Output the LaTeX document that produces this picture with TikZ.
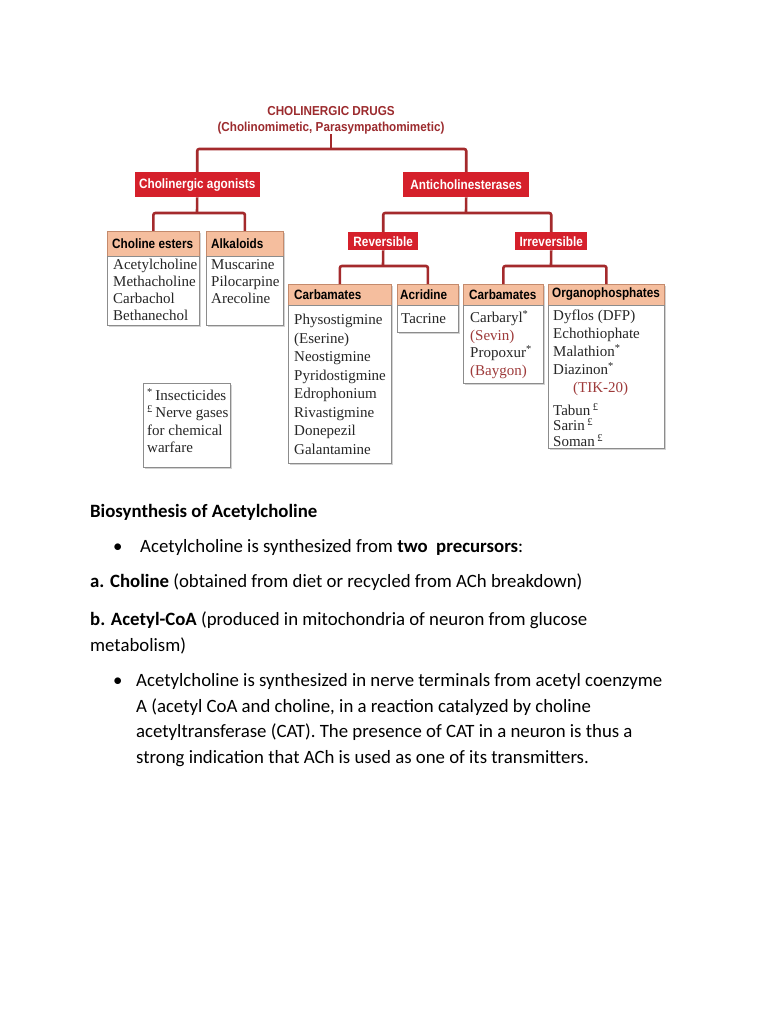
\documentclass[tikz,border=0pt]{standalone}
\usepackage{fontspec}
\setmainfont{Carlito}
\newfontfamily\hdr[FakeStretch=0.87]{Liberation Sans}
\newfontfamily\ttl[FakeStretch=0.9]{Liberation Sans}
\newfontfamily\lst{Liberation Serif}
\usetikzlibrary{shadows}
\definecolor{linered}{HTML}{A42A2C}
\definecolor{boxred}{HTML}{D5202B}
\definecolor{salmon}{HTML}{F5BE9E}
\definecolor{hdrborder}{HTML}{C48A6C}
\definecolor{titlered}{HTML}{9C2B2E}
\definecolor{namered}{HTML}{9E3A3A}
\definecolor{bodyborder}{HTML}{8C8C8C}
\tikzset{
  conn/.style={draw=linered, line width=2.6pt, rounded corners=2pt},
  redbox/.style={fill=boxred, text=white, font=\hdr\bfseries\fontsize{13.5}{15}\selectfont, inner sep=0pt, anchor=north west},
  hdrbox/.style={fill=salmon, draw=hdrborder, line width=0.8pt, inner sep=0pt, anchor=north west, drop shadow={shadow xshift=2pt, shadow yshift=-2pt, fill=black!35}},
  hdrtext/.style={font=\hdr\bfseries\fontsize{13.5}{15}\selectfont, anchor=west, inner sep=0pt},
  bodybox/.style={fill=white, draw=bodyborder, line width=0.8pt, inner sep=0pt, anchor=north west, drop shadow={shadow xshift=2pt, shadow yshift=-2pt, fill=black!35}},
  listtext/.style={font=\lst\fontsize{15}{17}\selectfont, text=black!85, inner sep=0pt, anchor=north west, align=left},
  bodytext/.style={font=\fontsize{18.8}{25.5}\selectfont, inner sep=0pt, anchor=base west, align=left},
}
\newcommand{\nm}[1]{\textcolor{namered}{#1}}
\begin{document}
\begin{tikzpicture}[x=1pt,y=-1pt]
\useasboundingbox (0,0) rectangle (768,1024);
\fill[white] (0,0) rectangle (768,1024);

% title
\node[font=\ttl\bfseries\fontsize{13}{16}\selectfont, text=titlered, align=center, inner sep=0pt] (title) at (331,120) {CHOLINERGIC DRUGS\\(Cholinomimetic, Parasympathomimetic)};

% level 1
\node[redbox, minimum width=125pt, minimum height=25pt] (agon) at (134.5,172) {Cholinergic agonists};
\node[redbox, minimum width=126pt, minimum height=25pt] (anti) at (403,172) {Anticholinesterases};

% level 2
\node[redbox, minimum width=70pt, minimum height=18pt] (rev) at (348,232) {Reversible};
\node[redbox, minimum width=72pt, minimum height=18pt] (irr) at (515,232) {Irreversible};

% choline esters
\node[hdrbox, minimum width=92pt, minimum height=25pt] (ceh) at (107,231) {};
\node[hdrtext] (ceht) at (112,243.5) {Choline esters};
\node[bodybox, minimum width=92pt, minimum height=69pt] (ceb) at (107,256) {};
\node[listtext] (cet) at (113,259) {Acetylcholine\\Methacholine\\Carbachol\\Bethanechol};

% alkaloids
\node[hdrbox, minimum width=77pt, minimum height=25pt] (alkh) at (206,231) {};
\node[hdrtext] (alkht) at (211,243.5) {Alkaloids};
\node[bodybox, minimum width=77pt, minimum height=69pt] (alkb) at (206,256) {};
\node[listtext] (alkt) at (211,259) {Muscarine\\Pilocarpine\\Arecoline};

% reversible carbamates
\node[hdrbox, minimum width=103pt, minimum height=21pt] (c1h) at (288,284) {};
\node[hdrtext] (c1ht) at (294,294.5) {Carbamates};
\node[bodybox, minimum width=103pt, minimum height=158pt] (c1b) at (288,305) {};
\node[listtext, font=\lst\fontsize{15}{18.5}\selectfont] (c1t) at (294,314) {Physostigmine\\(Eserine)\\Neostigmine\\Pyridostigmine\\Edrophonium\\Rivastigmine\\Donepezil\\Galantamine};

% acridine
\node[hdrbox, minimum width=61pt, minimum height=21pt] (acrh) at (397,284) {};
\node[hdrtext] (acrht) at (400,294.5) {Acridine};
\node[bodybox, minimum width=61pt, minimum height=27pt] (acrb) at (397,305) {};
\node[listtext] (acrt) at (401,313) {Tacrine};

% irreversible carbamates
\node[hdrbox, minimum width=80pt, minimum height=21pt] (c2h) at (463,284) {};
\node[hdrtext] (c2ht) at (469,294.5) {Carbamates};
\node[bodybox, minimum width=80pt, minimum height=78pt] (c2b) at (463,305) {};
\node[listtext, font=\lst\fontsize{15}{17.7}\selectfont] (c2t) at (470,310) {Carbaryl\textsuperscript{*}\\\nm{(Sevin)}\\Propoxur\textsuperscript{*}\\\nm{(Baygon)}};

% organophosphates
\node[hdrbox, minimum width=116pt, minimum height=21pt] (orgh) at (548,284) {};
\node[hdrtext] (orght) at (552,294.5) {Organophosphates};
\node[bodybox, minimum width=116pt, minimum height=143pt] (orgb) at (548,305) {};
\node[listtext, font=\lst\fontsize{15}{18}\selectfont] (orgt) at (553,310) {Dyflos (DFP)\\Echothiophate\\Malathion\textsuperscript{*}\\Diazinon\textsuperscript{*}\\\hspace{20pt}\nm{(TIK-20)}};
\node[listtext, font=\lst\fontsize{15}{15.5}\selectfont] (orgt2) at (553,403) {Tabun\,\textsuperscript{£}\\Sarin\,\textsuperscript{£}\\Soman\,\textsuperscript{£}};

% legend
\node[bodybox, minimum width=87pt, minimum height=84pt] (leg) at (143,383) {};
\node[listtext, font=\lst\fontsize{15}{17.5}\selectfont] (legt) at (147,388) {\textsuperscript{*}\,Insecticides\\\textsuperscript{£}\,Nerve gases\\for chemical\\warfare};

% connectors
\coordinate (b1) at (331,149);
\coordinate (b2) at (197,213);
\coordinate (b3) at (466,213);
\coordinate (b4) at (383,266);
\coordinate (b5) at (551,266);
\draw[conn] (title.south) -- (b1);
\draw[conn] (agon.north) |- (b1) -| (anti.north);
\draw[conn] (agon.south) -- (b2);
\draw[conn] (ceh.north) |- (b2) -| (alkh.north);
\draw[conn] (anti.south) -- (b3);
\draw[conn] (rev.north) |- (b3) -| (irr.north);
\draw[conn] (rev.south) -- (b4);
\draw[conn] (c1h.north) |- (b4) -| (acrh.north);
\draw[conn] (irr.south) -- (b5);
\draw[conn] (c2h.north) |- (b5) -| (orgh.north);

% lower text
\node[bodytext] (h1) at (90,517) {\textbf{Biosynthesis of Acetylcholine}};
\node[bodytext] (bu1) at (113,552) {•};
\node[bodytext] (p1) at (140,552) {Acetylcholine is synthesized from \textbf{two\ \ precursors}:};
\node[bodytext] (pa) at (90,587) {\textbf{a. Choline} (obtained from diet or recycled from ACh breakdown)};
\node[bodytext] (pb) at (90,625) {\textbf{b. Acetyl-CoA} (produced in mitochondria of neuron from glucose};
\node[bodytext] (pb2) at (90,651) {metabolism)};
\node[bodytext] (bu2) at (113,686) {•};
\node[bodytext] (p2) at (136,763) {Acetylcholine is synthesized in nerve terminals from acetyl coenzyme\\A (acetyl CoA and choline, in a reaction catalyzed by choline\\acetyltransferase (CAT). The presence of CAT in a neuron is thus a\\strong indication that ACh is used as one of its transmitters.};
\end{tikzpicture}
\end{document}
